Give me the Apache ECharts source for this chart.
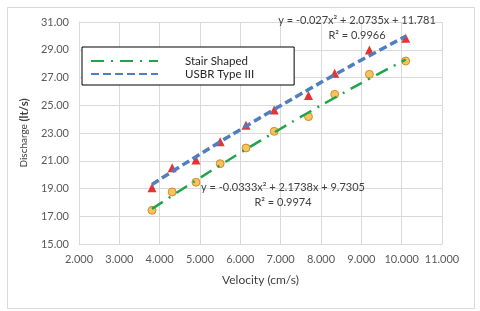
<!DOCTYPE html>
<html>
<head>
<meta charset="utf-8">
<script src="https://cdn.jsdelivr.net/npm/echarts@6/dist/echarts.min.js"></script>
<style>
html,body{margin:0;padding:0;background:#fff;}
#chart{width:480px;height:311px;}
</style>
</head>
<body>
<div id="chart"></div>
<script>
// Velocity (cm/s)
var velocity = [3.81, 4.31, 4.90, 5.50, 6.14, 6.84, 7.69, 8.34, 9.20, 10.10];
// Discharge (lt/s) measured points
var stairShaped = [17.43, 18.75, 19.45, 20.79, 21.92, 23.12, 24.18, 25.79, 27.23, 28.19];
var usbrTypeIII = [19.06, 20.50, 21.05, 22.37, 23.55, 24.66, 25.70, 27.30, 28.98, 29.82];
// Trendline values
var stairTrend = [17.53, 18.48, 19.58, 20.68, 21.82, 23.04, 24.48, 25.54, 26.91, 28.29];
var usbrTrend = [19.29, 20.22, 21.29, 22.37, 23.49, 24.70, 26.13, 27.20, 28.57, 29.97];
// Series names and annotations
var seriesNames = ['Stair Shaped', 'USBR Type III'];
var usbrEquation = ['y = -0.027x² + 2.0735x + 11.781', 'R² = 0.9966'];
var stairEquation = ['y = -0.0333x² + 2.1738x + 9.7305', 'R² = 0.9974'];
// Axis settings
var xTicks = {min: 2, max: 11, interval: 1};
var yTicks = {min: 15, max: 31, interval: 2};

function pairs(xs, ys) { return xs.map(function (x, i) { return [x, ys[i]]; }); }

var FONT = 'Lato, "Open Sans", sans-serif';
var chart = echarts.init(document.getElementById('chart'), null, {renderer: 'canvas'});
var option = {
  backgroundColor: '#ffffff',
  animation: false,
  textStyle: {fontFamily: FONT},
  grid: {left: 79, right: 38, top: 22, bottom: 67},
  legend: {
    data: seriesNames,
    orient: 'vertical',
    left: 82, top: 47,
    padding: [8, 40, 5, 8],
    itemWidth: 67, itemHeight: 14, itemGap: 1,
    backgroundColor: '#ffffff',
    borderColor: '#000000', borderWidth: 1,
    itemStyle: {opacity: 0},
    textStyle: {fontFamily: FONT, fontSize: 11.5, color: '#262626', padding: [0, 0, 0, 22]}
  },
  xAxis: {
    type: 'value', min: xTicks.min, max: xTicks.max, interval: xTicks.interval,
    name: 'Velocity (cm/s)', nameLocation: 'middle', nameGap: 30,
    nameTextStyle: {fontFamily: FONT, fontSize: 12, color: '#404040'},
    axisLine: {show: true, lineStyle: {color: '#d9d9d9'}},
    axisTick: {show: false},
    axisLabel: {fontFamily: FONT, fontSize: 11, color: '#595959', margin: 10,
      formatter: function (v) { return v.toFixed(3); }},
    splitLine: {lineStyle: {color: '#d9d9d9', width: 1}}
  },
  yAxis: {
    type: 'value', min: yTicks.min, max: yTicks.max, interval: yTicks.interval,
    name: '{a|Discharge }{b|(lt/s)}', nameLocation: 'middle', nameGap: 40,
    nameTextStyle: {rich: {
      a: {fontFamily: FONT, fontSize: 10, color: '#404040'},
      b: {fontFamily: FONT, fontSize: 11.5, fontWeight: 'bold', color: '#404040'}
    }},
    axisLine: {show: true, lineStyle: {color: '#d9d9d9'}},
    axisTick: {show: false},
    axisLabel: {fontFamily: FONT, fontSize: 11, color: '#595959', margin: 10,
      formatter: function (v) { return v.toFixed(2); }},
    splitLine: {lineStyle: {color: '#d9d9d9', width: 1}}
  },
  series: [
    {
      name: 'Stair Shaped points', type: 'scatter', z: 2,
      data: pairs(velocity, stairShaped),
      symbol: 'circle', symbolSize: 8,
      itemStyle: {color: '#f4b43a', borderColor: '#c87c10', borderWidth: 1}
    },
    {
      name: 'USBR Type III points', type: 'scatter', z: 2,
      data: pairs(velocity, usbrTypeIII),
      symbol: 'triangle', symbolSize: 9,
      itemStyle: {color: '#e00000'}
    },
    {
      name: seriesNames[0], type: 'line', z: 3, smooth: true, symbol: 'none',
      data: pairs(velocity, stairTrend),
      color: '#1fa64a',
      lineStyle: {color: '#1fa64a', width: 2.5, type: [13, 7, 2, 7]}
    },
    {
      name: seriesNames[1], type: 'line', z: 3, smooth: true, symbol: 'none',
      data: pairs(velocity, usbrTrend),
      color: '#4f7fbf',
      lineStyle: {color: '#4f7fbf', width: 3.5, type: [8, 4]}
    }
  ],
  graphic: [
    {type: 'rect', left: 5, top: 5, z: -10, silent: true,
      shape: {width: 467, height: 301},
      style: {fill: 'none', stroke: '#d9d9d9', lineWidth: 1}},
    {type: 'text', x: 357, y: 20, z: 10,
      style: {text: usbrEquation[0], font: '11px ' + FONT, fill: '#404040', align: 'center', verticalAlign: 'middle'}},
    {type: 'text', x: 357, y: 35, z: 10,
      style: {text: usbrEquation[1], font: '11px ' + FONT, fill: '#404040', align: 'center', verticalAlign: 'middle'}},
    {type: 'text', x: 283, y: 187, z: 10,
      style: {text: stairEquation[0], font: '11px ' + FONT, fill: '#404040', align: 'center', verticalAlign: 'middle'}},
    {type: 'text', x: 283, y: 202, z: 10,
      style: {text: stairEquation[1], font: '11px ' + FONT, fill: '#404040', align: 'center', verticalAlign: 'middle'}}
  ]
};
chart.setOption(option);
</script>
</body>
</html>
